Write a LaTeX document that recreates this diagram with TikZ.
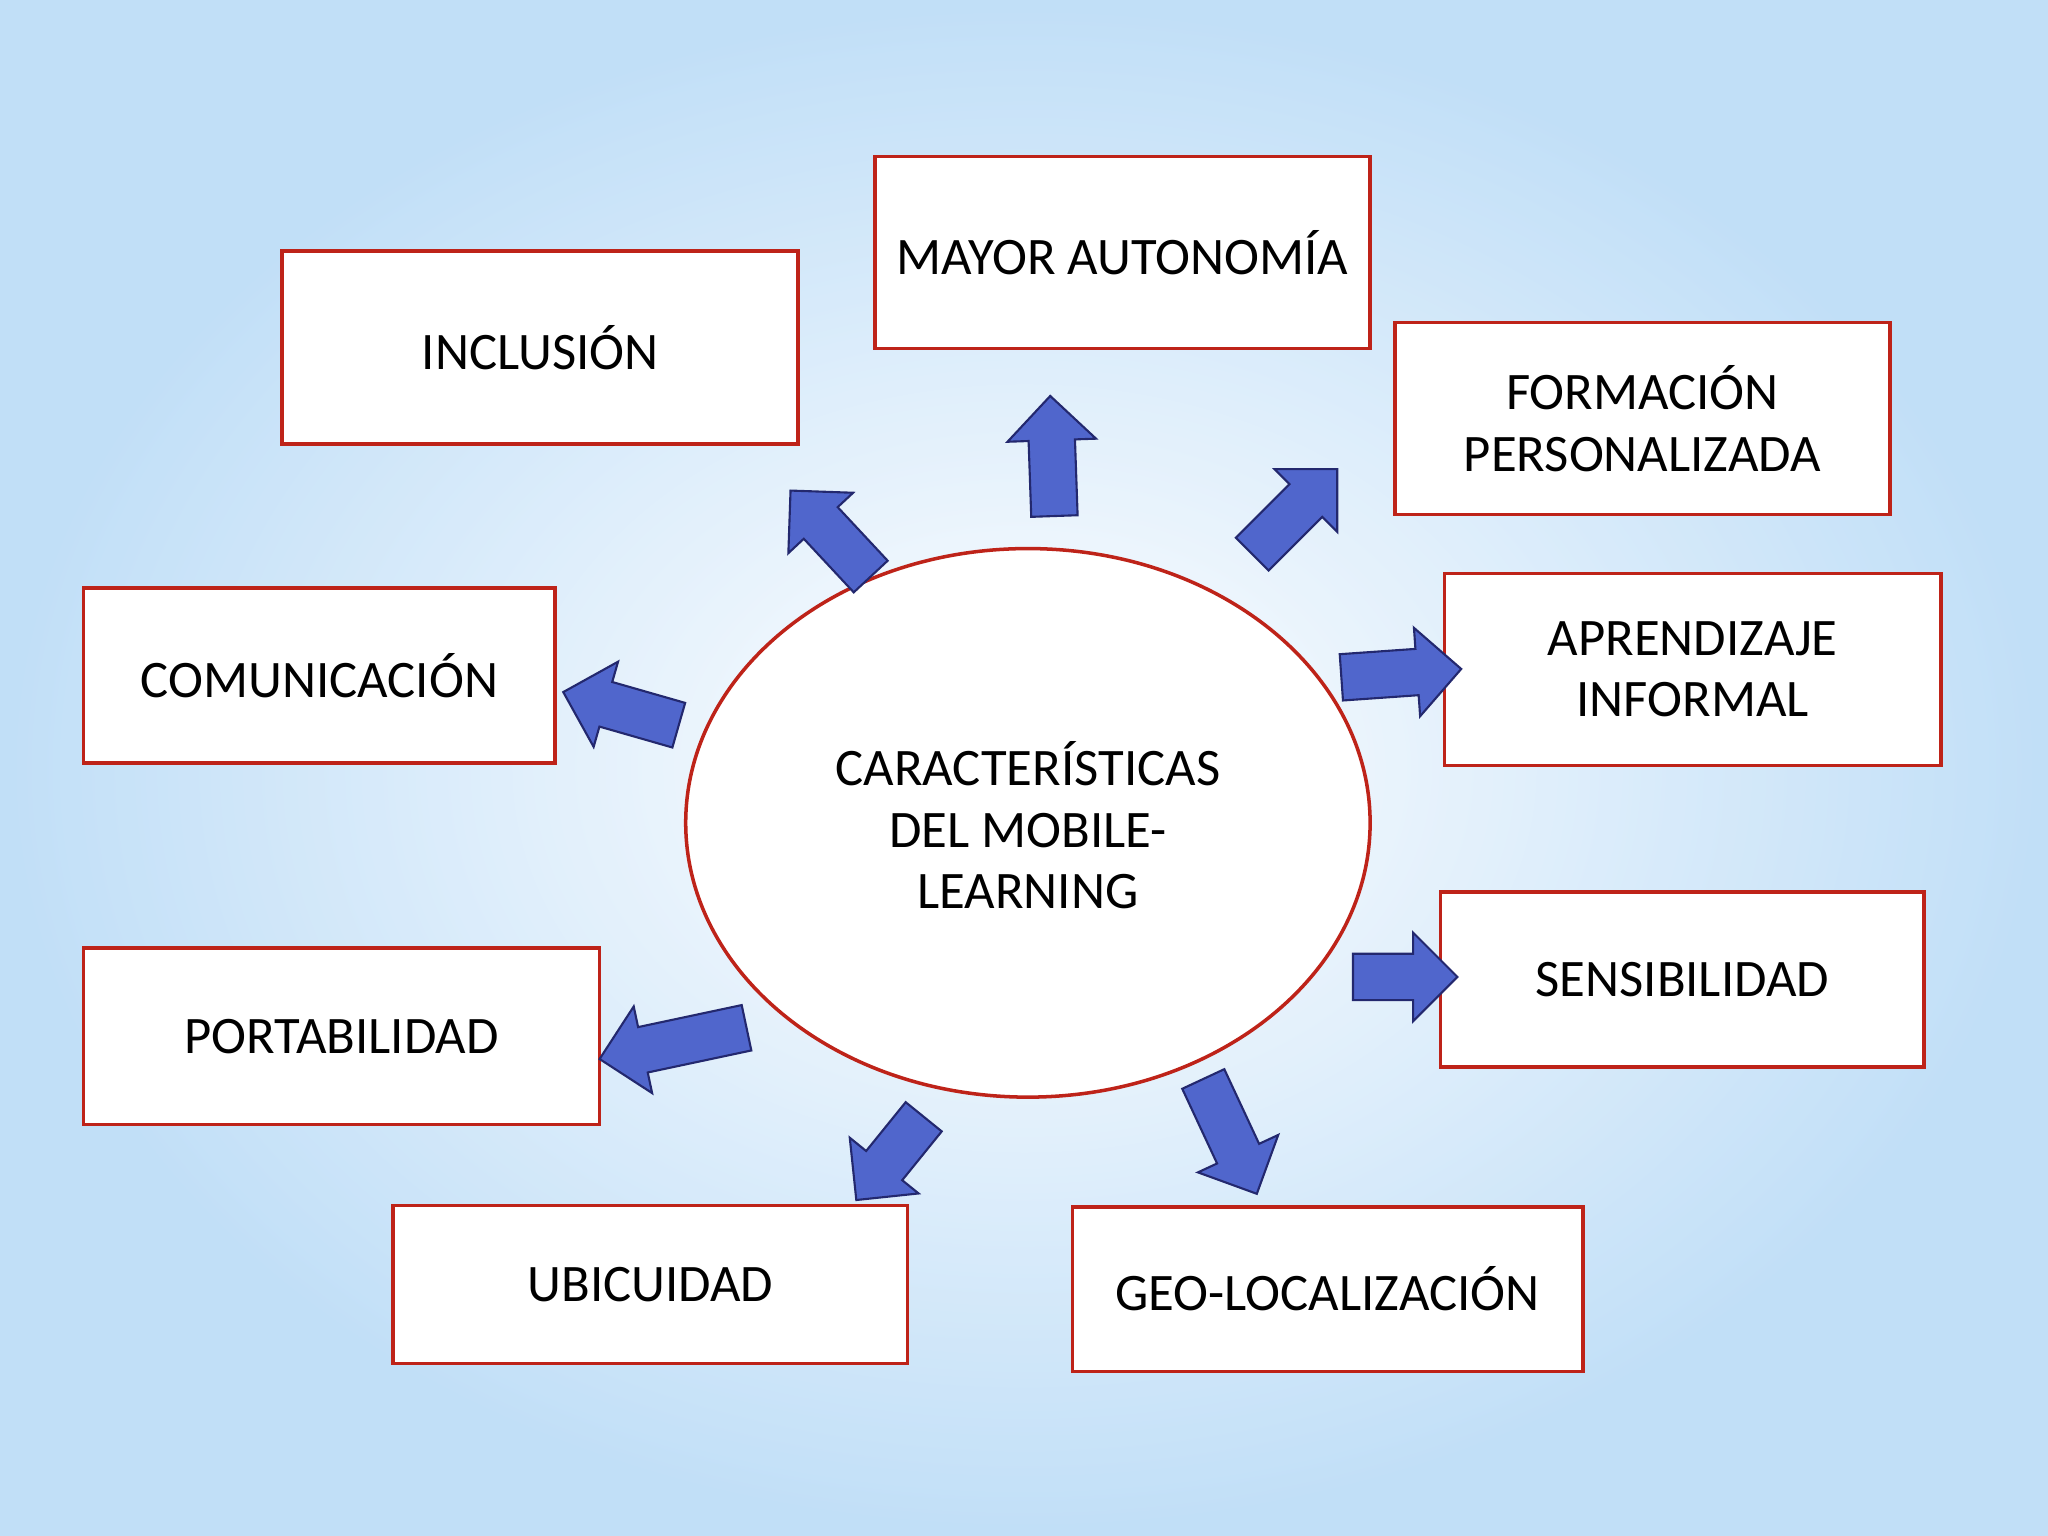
\documentclass[tikz,border=0pt]{standalone}
\usepackage{fontspec}
\setmainfont{Carlito}
\usetikzlibrary{shapes.arrows}
\definecolor{bord}{RGB}{190,35,25}
\definecolor{arrfill}{RGB}{80,102,204}
\definecolor{arrline}{RGB}{35,40,110}
\definecolor{bgblue}{RGB}{160,206,244}
\tikzset{
  box/.style={draw=bord,line width=1pt,fill=white,inner sep=0,align=center,font=\fontsize{15}{17.5}\selectfont},
  barrow/.style={shape=single arrow,draw=arrline,fill=arrfill,line width=0.6pt,inner xsep=0pt,inner ysep=6.3pt,
    single arrow head extend=6pt,text width=0pt}
}
\begin{document}
\begin{tikzpicture}[x=0.01306cm,y=-0.01306cm]
\useasboundingbox (0,0) rectangle (1568,1176);
\shade[inner color=white,outer color=bgblue] (0,0) rectangle (1568,1176);
\fill[white,opacity=0.35] (0,0) rectangle (1568,1176);
\draw[bord,line width=1pt,fill=white] (787,630) ellipse [x radius=262, y radius=210];
\node[align=center,font=\fontsize{15}{17.5}\selectfont] (ct) at (787,632) {CARACTERÍSTICAS\\DEL MOBILE-\\LEARNING};
\node[box,minimum width=379*0.3716pt,minimum height=147*0.3716pt] (ma) at (859.5,193.5) {MAYOR AUTONOMÍA};
\node[box,minimum width=395*0.3716pt,minimum height=148*0.3716pt] (in) at (413.5,266) {INCLUSIÓN};
\node[box,minimum width=379*0.3716pt,minimum height=147*0.3716pt] (fp) at (1257.5,320.5) {FORMACIÓN\\PERSONALIZADA};
\node[box,minimum width=361*0.3716pt,minimum height=134*0.3716pt] (co) at (244.5,517) {COMUNICACIÓN};
\node[box,minimum width=380*0.3716pt,minimum height=147*0.3716pt] (ai) at (1296,512.5) {APRENDIZAJE\\INFORMAL};
\node[box,minimum width=395*0.3716pt,minimum height=135*0.3716pt] (po) at (261.5,793.5) {PORTABILIDAD};
\node[box,minimum width=370*0.3716pt,minimum height=134*0.3716pt] (se) at (1288,750) {SENSIBILIDAD};
\node[box,minimum width=394*0.3716pt,minimum height=121*0.3716pt] (ub) at (498,983.5) {UBICUIDAD};
\node[box,minimum width=391*0.3716pt,minimum height=126*0.3716pt] (ge) at (1016.5,987) {GEO-LOCALIZACIÓN};
\node[barrow,minimum height=92*0.3716pt,rotate=92] (a1) at (806,358) {};
\node[barrow,minimum height=90*0.3716pt,rotate=133] (a2) at (642,415) {};
\node[barrow,minimum height=92*0.3716pt,rotate=45] (a3) at (985,398) {};
\node[barrow,minimum height=92*0.3716pt,rotate=4] (a4) at (1064,516) {};
\node[barrow,minimum height=92*0.3716pt,rotate=164] (a5) at (484,545) {};
\node[barrow,minimum height=80*0.3716pt,rotate=0] (a6) at (1067,748) {};
\node[barrow,minimum height=115*0.3716pt,rotate=192] (a7) at (524,797) {};
\node[barrow,minimum height=82*0.3716pt,rotate=231] (a8) at (687,880) {};
\node[barrow,minimum height=97*0.3716pt,rotate=-65] (a9) at (938,862) {};
\end{tikzpicture}
\end{document}
